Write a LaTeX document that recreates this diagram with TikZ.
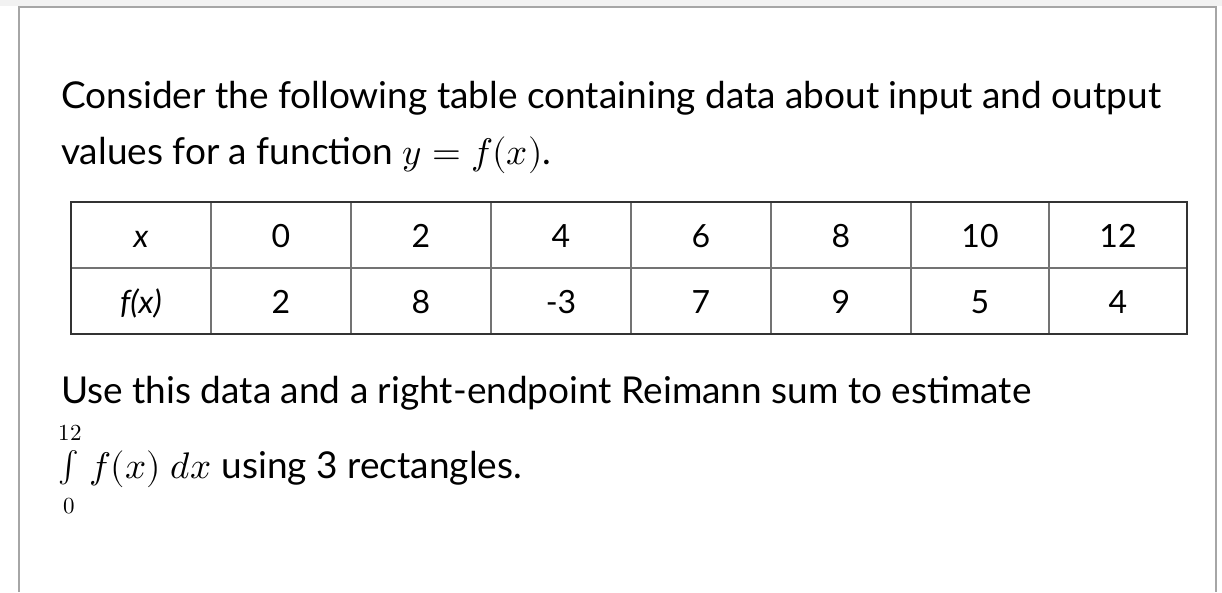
\documentclass[tikz,border=0pt]{standalone}
\usepackage{fontspec}
\setmainfont{Lato}
\usepackage{unicode-math}
\setmathfont{Latin Modern Math}
\begin{document}
\begin{tikzpicture}[x=1pt,y=-1pt,
  txt/.style={anchor=base west,inner sep=0pt,font=\fontsize{37}{44}\selectfont},
  cell/.style={anchor=base,inner sep=0pt,font=\fontsize{32}{36}\selectfont}]
\useasboundingbox (0,0) rectangle (1222,592);
\fill[gray!10] (0,0) rectangle (1222,6);
\draw[gray!70,line width=2] (19,592) -- (19,7) -- (1216,7) -- (1216,592);
\node[txt] (l1) at (61,108) {Consider the following table containing data about input and output};
\node[txt] (l2) at (61,164) {values for a function $y=f(x)$.};
% table
\foreach \x in {211,351,491,631,771,911,1049}
  \draw[gray!90!black,line width=2] (\x,202) -- (\x,334);
\draw[gray!90!black,line width=2] (71,268) -- (1187,268);
\draw[black!80,line width=2] (71,202) rectangle (1187,334);
\foreach \c/\a/\b [count=\i] in {141/\textit{x}/\textit{f(x)},281/0/2,421/2/8,561/4/-3,701/6/7,841/8/9,980/10/5,1118/12/4}{
  \node[cell] (t\i) at (\c,247) {\a};
  \node[cell] (b\i) at (\c,313) {\b};
}
\node[txt] (l3) at (61,403) {Use this data and a right-endpoint Reimann sum to estimate};
\node[anchor=base,inner sep=0pt,font=\fontsize{23}{26}\selectfont] (up) at (70,440) {$12$};
\node[anchor=base,inner sep=0pt,font=\fontsize{31}{33}\selectfont] (int) at (69,476) {$\int$};
\node[anchor=base,inner sep=0pt,font=\fontsize{23}{26}\selectfont] (lo) at (69,513) {$0$};
\node[txt] (l4) at (89,478) {$f(x)\;dx$ using 3 rectangles.};
\end{tikzpicture}
\end{document}
